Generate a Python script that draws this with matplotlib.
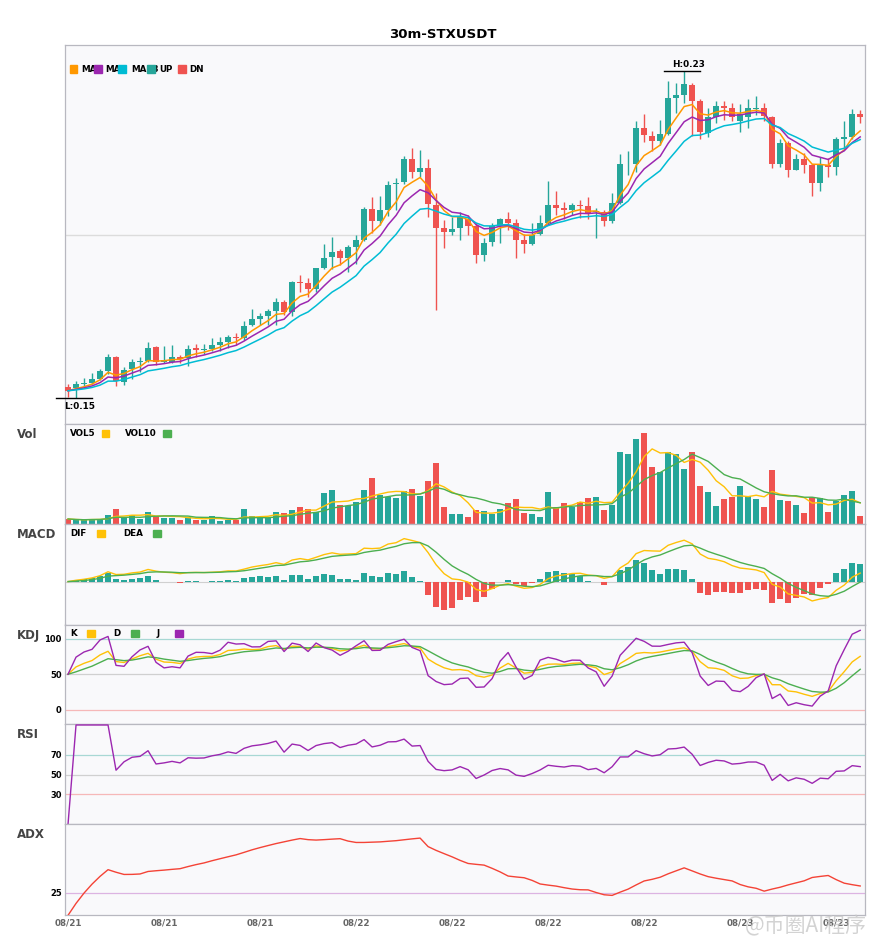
import numpy as np
import pandas as pd
import matplotlib
matplotlib.use("Agg")
import matplotlib.pyplot as plt
from matplotlib.patches import Rectangle

# 30m candles
opens = [0.1527, 0.1525, 0.1534, 0.1537, 0.1547, 0.1566, 0.1600, 0.1539, 0.1571, 0.1588,
         0.1592, 0.1625, 0.1588, 0.1589, 0.1600, 0.1598, 0.1622, 0.1618, 0.1620, 0.1631,
         0.1637, 0.1649, 0.1647, 0.1679, 0.1694, 0.1702, 0.1714, 0.1736, 0.1711, 0.1785,
         0.1782, 0.1767, 0.1819, 0.1846, 0.1859, 0.1842, 0.1870, 0.1888, 0.1963, 0.1934,
         0.1960, 0.2023, 0.2030, 0.2086, 0.2054, 0.2063, 0.1973, 0.1916, 0.1907, 0.1916,
         0.1939, 0.1920, 0.1850, 0.1883, 0.1922, 0.1939, 0.1929, 0.1887, 0.1877, 0.1901,
         0.1929, 0.1973, 0.1966, 0.1961, 0.1973, 0.1970, 0.1956, 0.1955, 0.1934, 0.1977,
         0.2072, 0.2073, 0.2161, 0.2142, 0.2130, 0.2147, 0.2234, 0.2242, 0.2267, 0.2228,
         0.2148, 0.2188, 0.2215, 0.2210, 0.2179, 0.2188, 0.2207, 0.2210, 0.2188, 0.2073,
         0.2124, 0.2059, 0.2086, 0.2071, 0.2027, 0.2071, 0.2065, 0.2135, 0.2139, 0.2196]
highs = [0.1534, 0.1542, 0.1549, 0.1561, 0.1571, 0.1608, 0.1603, 0.1576, 0.1596, 0.1600,
         0.1637, 0.1627, 0.1627, 0.1630, 0.1605, 0.1630, 0.1632, 0.1632, 0.1647, 0.1649,
         0.1654, 0.1659, 0.1689, 0.1718, 0.1708, 0.1718, 0.1745, 0.1740, 0.1787, 0.1801,
         0.1795, 0.1819, 0.1877, 0.1894, 0.1865, 0.1875, 0.1899, 0.1968, 0.1993, 0.1995,
         0.2032, 0.2038, 0.2093, 0.2112, 0.2108, 0.2086, 0.2001, 0.1935, 0.1942, 0.1956,
         0.1948, 0.1928, 0.1891, 0.1928, 0.1940, 0.1956, 0.1938, 0.1901, 0.1928, 0.1947,
         0.2032, 0.2007, 0.1981, 0.1977, 0.1985, 0.1993, 0.1965, 0.1961, 0.2001, 0.2097,
         0.2105, 0.2177, 0.2195, 0.2154, 0.2181, 0.2277, 0.2272, 0.2300, 0.2271, 0.2232,
         0.2210, 0.2228, 0.2228, 0.2222, 0.2220, 0.2232, 0.2240, 0.2222, 0.2191, 0.2134,
         0.2128, 0.2098, 0.2100, 0.2073, 0.2090, 0.2088, 0.2140, 0.2177, 0.2207, 0.2206]
lows = [0.1502, 0.1500, 0.1529, 0.1534, 0.1544, 0.1559, 0.1529, 0.1532, 0.1547, 0.1564,
        0.1588, 0.1581, 0.1586, 0.1586, 0.1586, 0.1578, 0.1600, 0.1608, 0.1615, 0.1615,
        0.1622, 0.1630, 0.1642, 0.1676, 0.1679, 0.1679, 0.1679, 0.1703, 0.1702, 0.1760,
        0.1748, 0.1760, 0.1816, 0.1816, 0.1826, 0.1809, 0.1828, 0.1885, 0.1904, 0.1924,
        0.1945, 0.1961, 0.2024, 0.2038, 0.2040, 0.1944, 0.1716, 0.1867, 0.1898, 0.1887,
        0.1899, 0.1830, 0.1836, 0.1872, 0.1879, 0.1912, 0.1844, 0.1855, 0.1875, 0.1898,
        0.1926, 0.1948, 0.1938, 0.1948, 0.1940, 0.1939, 0.1891, 0.1920, 0.1928, 0.1975,
        0.2046, 0.2054, 0.2126, 0.2105, 0.2120, 0.2144, 0.2198, 0.2222, 0.2142, 0.2134,
        0.2140, 0.2173, 0.2181, 0.2179, 0.2152, 0.2161, 0.2193, 0.2177, 0.2063, 0.2065,
        0.2041, 0.2057, 0.2050, 0.1995, 0.2008, 0.2042, 0.2046, 0.2112, 0.2134, 0.2173]
closes = [0.1518, 0.1534, 0.1537, 0.1547, 0.1566, 0.1600, 0.1542, 0.1569, 0.1588, 0.1592,
          0.1622, 0.1588, 0.1593, 0.1600, 0.1596, 0.1620, 0.1619, 0.1620, 0.1630, 0.1637,
          0.1650, 0.1647, 0.1676, 0.1694, 0.1702, 0.1714, 0.1736, 0.1711, 0.1785, 0.1781,
          0.1766, 0.1818, 0.1844, 0.1858, 0.1842, 0.1870, 0.1886, 0.1963, 0.1934, 0.1960,
          0.2022, 0.2027, 0.2086, 0.2054, 0.2063, 0.1976, 0.1917, 0.1907, 0.1914, 0.1944,
          0.1922, 0.1850, 0.1879, 0.1920, 0.1939, 0.1929, 0.1887, 0.1877, 0.1899, 0.1929,
          0.1973, 0.1966, 0.1961, 0.1973, 0.1970, 0.1950, 0.1959, 0.1934, 0.1977, 0.2073,
          0.2074, 0.2161, 0.2143, 0.2130, 0.2146, 0.2234, 0.2242, 0.2269, 0.2228, 0.2150,
          0.2187, 0.2215, 0.2210, 0.2188, 0.2195, 0.2210, 0.2210, 0.2191, 0.2073, 0.2125,
          0.2059, 0.2086, 0.2071, 0.2027, 0.2071, 0.2065, 0.2135, 0.2139, 0.2196, 0.2188]
# volume in thousands
volumes = [53, 43, 40, 53, 53, 93, 153, 60, 93, 53,
           123, 80, 67, 67, 43, 77, 43, 43, 87, 37,
           40, 43, 153, 83, 60, 60, 123, 113, 143, 173,
           153, 123, 313, 343, 193, 183, 223, 343, 463, 293,
           273, 263, 333, 353, 283, 433, 613, 173, 103, 103,
           73, 143, 133, 103, 153, 213, 253, 113, 103, 73,
           323, 173, 213, 173, 223, 263, 273, 143, 193, 723,
           703, 843, 903, 573, 520, 723, 703, 553, 723, 383,
           323, 183, 253, 273, 383, 283, 253, 173, 543, 243,
           233, 193, 113, 273, 263, 123, 233, 293, 333, 83]

MA_SPANS = (5, 8, 13)
MACD_FAST, MACD_SLOW, MACD_SIG = 6, 13, 5
SYMBOL = "30m-STXUSDT"
START = "2023-08-21 08:00"

UP_C = "#26a69a"
DN_C = "#ef5350"
MA_COLORS = ["#ff9800", "#9c27b0", "#00bcd4"]
YEL = "#ffc107"
GRN = "#4caf50"
PUR = "#9c27b0"
FACE = "#f9f9fb"
SPINE = "#b8b8c0"

FIG_W, FIG_H = 885, 950
AX_L, AX_R = 65.3, 865.0


def build_frame():
    df = pd.DataFrame({"open": opens, "high": highs, "low": lows,
                       "close": closes, "volume": volumes})
    df.index = pd.date_range(START, periods=len(df), freq="30min")
    for span in MA_SPANS:
        df[f"ma{span}"] = df["close"].ewm(span=span, adjust=False).mean()
    df["vol5"] = df["volume"].rolling(5, min_periods=1).mean()
    df["vol10"] = df["volume"].rolling(10, min_periods=1).mean()

    fast = df["close"].ewm(span=MACD_FAST, adjust=False).mean()
    slow = df["close"].ewm(span=MACD_SLOW, adjust=False).mean()
    df["dif"] = fast - slow
    df["dea"] = df["dif"].ewm(span=MACD_SIG, adjust=False).mean()
    df["hist"] = 2 * (df["dif"] - df["dea"])

    ll = df["low"].rolling(9, min_periods=1).min()
    hh = df["high"].rolling(9, min_periods=1).max()
    rsv = (df["close"] - ll) / (hh - ll) * 100
    df["k"] = rsv.ewm(com=2, adjust=False).mean()
    df["d"] = df["k"].ewm(com=2, adjust=False).mean()
    df["j"] = 3 * df["k"] - 2 * df["d"]

    delta = df["close"].diff()
    gain = delta.clip(lower=0).ewm(alpha=1 / 14).mean()
    loss = (-delta.clip(upper=0)).ewm(alpha=1 / 14).mean()
    df["rsi"] = (100 - 100 / (1 + gain / loss)).fillna(0)

    pc = df["close"].shift(1)
    tr = pd.concat([df["high"] - df["low"], (df["high"] - pc).abs(),
                    (df["low"] - pc).abs()], axis=1).max(axis=1)
    upm = df["high"].diff()
    dnm = -df["low"].diff()
    pdm = pd.Series(np.where((upm > dnm) & (upm > 0), upm, 0.0), index=df.index)
    ndm = pd.Series(np.where((dnm > upm) & (dnm > 0), dnm, 0.0), index=df.index)
    atr = tr.ewm(span=14, adjust=False).mean()
    pdi = 100 * pdm.ewm(span=14, adjust=False).mean() / atr
    ndi = 100 * ndm.ewm(span=14, adjust=False).mean() / atr
    dx = (100 * (pdi - ndi).abs() / (pdi + ndi)).fillna(0)
    df["adx"] = dx.ewm(span=14, adjust=False).mean()
    return df


def add_panel(fig, top, bottom):
    ax = fig.add_axes([AX_L / FIG_W, 1 - bottom / FIG_H,
                       (AX_R - AX_L) / FIG_W, (bottom - top) / FIG_H])
    ax.set_facecolor(FACE)
    for s in ax.spines.values():
        s.set_color(SPINE)
        s.set_linewidth(0.9)
    ax.set_yticks([])
    ax.tick_params(length=0)
    ax._px_h = bottom - top
    return ax


def legend_row(ax, y_off, items):
    w = AX_R - AX_L
    y = 1 - y_off / ax._px_h
    for x_px, kind, val in items:
        x = (x_px - AX_L) / w
        if kind == "sq":
            ax.add_patch(Rectangle((x, y - 3.7 / ax._px_h), 7.4 / w, 7.4 / ax._px_h,
                                   transform=ax.transAxes, color=val,
                                   clip_on=False, zorder=10))
        else:
            ax.text(x, y, val, transform=ax.transAxes, fontsize=6.3,
                    fontweight="bold", va="center", ha="left", zorder=9)


def hlines(ax, levels):
    for lvl, col in levels:
        ax.axhline(lvl, color=col, lw=0.9, zorder=1)


def main():
    df = build_frame()
    n = len(df)
    x = np.arange(n)
    o, h, l, c = (df[k].values for k in ("open", "high", "low", "close"))
    colors = np.where(c >= o, UP_C, DN_C)

    fig = plt.figure(figsize=(FIG_W / 100, FIG_H / 100), dpi=100)
    fig.patch.set_facecolor("white")

    ax = add_panel(fig, 45.0, 424.3)
    axv = add_panel(fig, 424.3, 524.3)
    axm = add_panel(fig, 524.3, 624.5)
    axk = add_panel(fig, 624.5, 724.0)
    axr = add_panel(fig, 724.0, 824.2)
    axa = add_panel(fig, 824.2, 915.3)
    axes = [ax, axv, axm, axk, axr, axa]

    # price panel
    ax.vlines(x, l, h, colors=colors, lw=1.0, zorder=2)
    ax.bar(x, np.maximum(np.abs(c - o), 0.00008), bottom=np.minimum(o, c),
           width=0.7, color=colors, zorder=3)
    for span, col in zip(MA_SPANS, MA_COLORS):
        ax.plot(x, df[f"ma{span}"], color=col, lw=1.1, zorder=4)
    hi_i, lo_i = int(np.argmax(h)), int(np.argmin(l))
    hi, lo = h[hi_i], l[lo_i]
    rng = hi - lo
    ax.set_ylim(lo - 0.08 * rng, hi + 0.08 * rng)
    ax.axhline((lo + hi) / 2, color="#dcdcdc", lw=1.0, zorder=0)
    ax.plot([hi_i - 2.5, hi_i + 2], [hi, hi], color="black", lw=1.0, clip_on=False, zorder=5)
    ax.plot([lo_i - 2.5, lo_i + 2], [lo, lo], color="black", lw=1.0, clip_on=False, zorder=5)
    ax.annotate(f"H:{hi:.2f}", (hi_i + 0.6, hi), xytext=(0, 5), textcoords="offset points",
                ha="center", va="center", fontsize=6.4, fontweight="bold")
    ax.annotate(f"L:{lo:.2f}", (lo_i + 0.4, lo), xytext=(0, -6.2), textcoords="offset points",
                ha="center", va="center", fontsize=6.4, fontweight="bold", annotation_clip=False)
    legend_row(ax, 24.2, [(70.0, "sq", MA_COLORS[0]), (81.0, "t", f"MA{MA_SPANS[0]}"),
                          (94.3, "sq", MA_COLORS[1]), (105.3, "t", f"MA{MA_SPANS[1]}"),
                          (118.3, "sq", MA_COLORS[2]), (131.0, "t", f"MA{MA_SPANS[2]}"),
                          (147.2, "sq", UP_C), (159.3, "t", "UP"),
                          (178.3, "sq", DN_C), (189.0, "t", "DN")])

    # volume
    axv.bar(x, df["volume"], width=0.75, color=colors, zorder=2)
    axv.plot(x, df["vol5"], color=YEL, lw=1.0, zorder=3)
    axv.plot(x, df["vol10"], color=GRN, lw=1.0, zorder=3)
    axv.set_ylim(0, df["volume"].max() * 1.1)
    legend_row(axv, 9.0, [(70.3, "t", "VOL5"), (101.7, "sq", YEL),
                          (125.3, "t", "VOL10"), (163.3, "sq", GRN)])

    # macd
    hist = df["hist"].values
    axm.bar(x, hist, width=0.72, color=np.where(hist >= 0, UP_C, DN_C), zorder=2)
    axm.plot(x, df["dif"], color=YEL, lw=1.0, zorder=3)
    axm.plot(x, df["dea"], color=GRN, lw=1.0, zorder=3)
    axm.axhline(0, color="#d0d0d0", lw=0.8, zorder=1)
    mn = min(df["dif"].min(), df["dea"].min(), hist.min())
    mx = max(df["dif"].max(), df["dea"].max(), hist.max())
    pad = 0.2 * (mx - mn)
    axm.set_ylim(mn - pad, mx + pad)
    legend_row(axm, 9.2, [(70.3, "t", "DIF"), (97.3, "sq", YEL),
                          (123.3, "t", "DEA"), (153.3, "sq", GRN)])

    # kdj
    hlines(axk, [(100, "#a8d8d4"), (50, "#d0d0d0"), (0, "#f6b8b8")])
    axk.plot(x, df["k"], color=YEL, lw=1.0, zorder=3)
    axk.plot(x, df["d"], color=GRN, lw=1.0, zorder=3)
    axk.plot(x, df["j"], color=PUR, lw=1.0, zorder=3)
    axk.set_ylim(-20, 120)
    axk.set_yticks([0, 50, 100])
    legend_row(axk, 8.8, [(70.3, "t", "K"), (87.3, "sq", YEL),
                          (113.3, "t", "D"), (131.3, "sq", GRN),
                          (156.7, "t", "J"), (175.3, "sq", PUR)])

    # rsi
    hlines(axr, [(70, "#a8d8d4"), (50, "#d0d0d0"), (30, "#f6b8b8")])
    axr.plot(x, df["rsi"], color=PUR, lw=1.0, zorder=3)
    axr.set_ylim(0, 101)
    axr.set_yticks([30, 50, 70])

    # adx
    axa.axhline(25, color="#dcb4e2", lw=0.9, zorder=1)
    axa.plot(x, df["adx"], color="#f44336", lw=1.0, zorder=3)
    axa.set_ylim(0, df["adx"].max() * 1.18)
    axa.set_yticks([25])

    ticks = list(range(0, n, 12))
    for a in axes:
        a.set_xlim(-0.34, 99.6)
        a.set_xticks(ticks)
        a.tick_params(axis="y", length=0, pad=2.5, labelsize=6)
        for t in a.get_yticklabels():
            t.set_fontweight("bold")
    for a in axes[:-1]:
        a.tick_params(axis="x", labelbottom=False, length=0)
    axa.set_xticklabels([df.index[i].strftime("%m/%d") for i in ticks],
                        fontsize=6.3, fontweight="bold", color="#666666")
    axa.tick_params(axis="x", length=0, pad=2.5)

    for a, label, y_px in [(axv, "Vol", 435), (axm, "MACD", 534.3), (axk, "KDJ", 635),
                           (axr, "RSI", 735), (axa, "ADX", 835)]:
        fig.text(17 / FIG_W, 1 - y_px / FIG_H, label, fontsize=8.5, fontweight="bold",
                 color="#444444", va="center", ha="left")
    fig.text(0.5, 1 - 34 / FIG_H, SYMBOL, fontsize=9.5, fontweight="bold",
             ha="center", va="center")
    fig.text(806 / FIG_W, 1 - 926 / FIG_H, "@币圈AI程序", fontsize=15, color="#c8c8c8",
             alpha=0.8, ha="center", va="center",
             family=["Noto Sans CJK SC", "DejaVu Sans"])

    fig.savefig("out.png", dpi=100, facecolor="white")
    plt.close(fig)


if __name__ == "__main__":
    main()
